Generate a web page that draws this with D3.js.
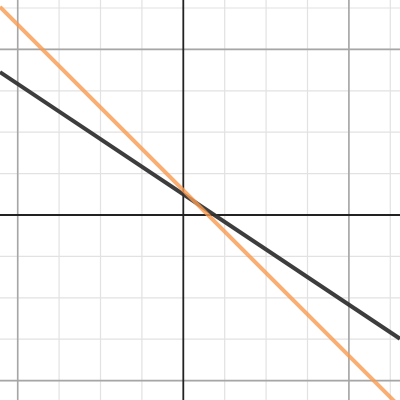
<!DOCTYPE html>
<html>
<head>
<meta charset="utf-8">
<script src="https://cdn.jsdelivr.net/npm/d3@7"></script>
<style>
  html, body { margin: 0; padding: 0; background: #fff; }
  svg { display: block; }
</style>
</head>
<body>
<svg width="400" height="400"></svg>
<script>
// grid tick values (units)
var minorX = [-2, -1.5, -1, -0.5, 0.5, 1, 1.5, 2, 2.5];
var minorY = [-2, -1.5, -1, -0.5, 0.5, 1, 1.5, 2, 2.5];
var majorX = [-2, 2];
var majorY = [-2, 2];

// lines y = m*x + b
var lineNames = ["black", "orange"];
var slopes = [-2 / 3, -1];
var intercepts = [0.25, 0.3];
var lineColors = ["#333333", "#f79a4f"];

var svg = d3.select("svg"),
    width = +svg.attr("width"),
    height = +svg.attr("height");

var unit = 82.8, ox = 183.3, oy = 215;

var x = d3.scaleLinear()
    .domain([-ox / unit, (width - ox) / unit])
    .range([0, width]);
var y = d3.scaleLinear()
    .domain([-(height - oy) / unit, oy / unit])
    .range([height, 0]);

var g = svg.append("g");

function vlines(vals, cls, color, w) {
  g.selectAll("." + cls).data(vals)
    .enter().append("line")
      .attr("class", cls)
      .attr("x1", function(d) { return x(d); })
      .attr("x2", function(d) { return x(d); })
      .attr("y1", 0).attr("y2", height)
      .attr("stroke", color).attr("stroke-width", w);
}
function hlines(vals, cls, color, w) {
  g.selectAll("." + cls).data(vals)
    .enter().append("line")
      .attr("class", cls)
      .attr("y1", function(d) { return y(d); })
      .attr("y2", function(d) { return y(d); })
      .attr("x1", 0).attr("x2", width)
      .attr("stroke", color).attr("stroke-width", w);
}

vlines(minorX, "minor-x", "#e2e2e2", 1.2);
hlines(minorY, "minor-y", "#e2e2e2", 1.2);
vlines(majorX, "major-x", "#a6a6a6", 1.6);
hlines(majorY, "major-y", "#a6a6a6", 1.6);
vlines([0], "axis-x", "#222", 1.8);
hlines([0], "axis-y", "#222", 1.8);

var xs = x.domain();
var line = d3.line()
    .x(function(d) { return x(d[0]); })
    .y(function(d) { return y(d[1]); });

g.selectAll(".graph")
    .data(lineNames)
  .enter().append("path")
    .attr("class", "graph")
    .attr("fill", "none")
    .attr("stroke", function(d, i) { return lineColors[i]; })
    .attr("stroke-opacity", function(d, i) { return i == 1 ? 0.8 : 0.95; })
    .attr("stroke-width", 4)
    .attr("d", function(d, i) {
      return line(xs.map(function(v) { return [v, slopes[i] * v + intercepts[i]]; }));
    });
</script>
</body>
</html>
